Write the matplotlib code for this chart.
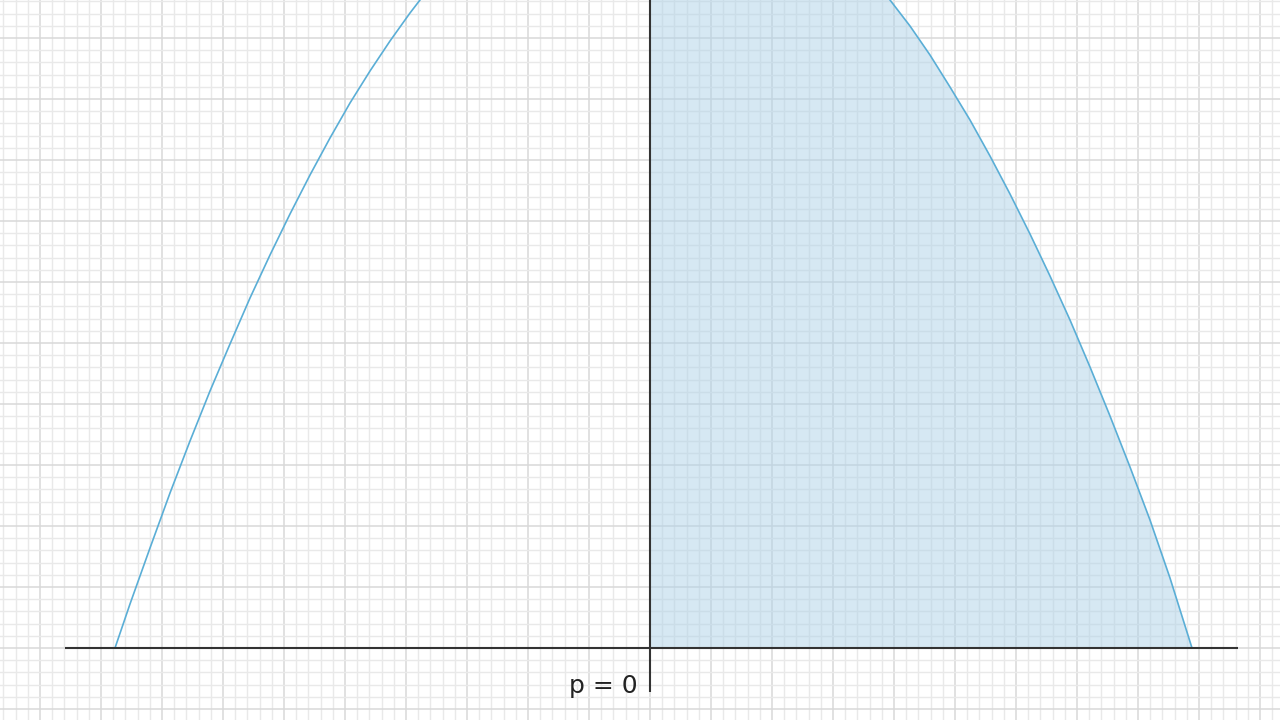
import matplotlib
matplotlib.use("Agg")
import matplotlib.pyplot as plt
from matplotlib.ticker import MultipleLocator
import numpy as np

# Curve values (p: horizontal, E: vertical)
p_vals = [-5.35, -5.2, -5.0, -4.8, -4.6, -4.4, -4.2, -4.0, -3.8, -3.6, -3.4, -3.2,
          -3.0, -2.8, -2.6, -2.4, -2.2, -2.0, -1.8, -1.6, -1.4, -1.2, -1.0, -0.8,
          -0.6, -0.4, -0.2, 0.0, 0.2, 0.4, 0.6, 0.8, 1.0, 1.2, 1.4, 1.6, 1.8, 2.0,
          2.2, 2.4, 2.6, 2.8, 3.0, 3.2, 3.4, 3.6, 3.8, 4.0, 4.2, 4.4, 4.6, 4.8,
          5.0, 5.2, 5.42]
E_vals = [0.00, 0.44, 1.00, 1.55, 2.07, 2.57, 3.04, 3.50, 3.93, 4.34, 4.73, 5.10,
          5.45, 5.77, 6.07, 6.35, 6.61, 6.85, 7.06, 7.25, 7.42, 7.57, 7.70, 7.80,
          7.88, 7.94, 7.98, 8.00, 7.99, 7.97, 7.92, 7.85, 7.75, 7.64, 7.50, 7.34,
          7.16, 6.96, 6.73, 6.48, 6.22, 5.93, 5.61, 5.28, 4.92, 4.54, 4.14, 3.72,
          3.28, 2.81, 2.32, 1.81, 1.28, 0.70, 0.00]
label_text = "p = 0"

p = np.array(p_vals)
E = np.array(E_vals)

fig = plt.figure(figsize=(12.8, 7.2), dpi=100)
ax = fig.add_axes([0, 0, 1, 1])
ax.set_xlim(-6.5, 6.3)
ax.set_ylim(-0.72, 6.48)

# graph-paper grid
ax.xaxis.set_major_locator(MultipleLocator(0.61))
ax.yaxis.set_major_locator(MultipleLocator(0.61))
ax.xaxis.set_minor_locator(MultipleLocator(0.122))
ax.yaxis.set_minor_locator(MultipleLocator(0.122))
ax.grid(which='minor', color='#e9e9e9', lw=1.0)
ax.grid(which='major', color='#d9d9d9', lw=1.1)
ax.set_axisbelow(True)
ax.tick_params(which='both', length=0, labelbottom=False, labelleft=False)
for s in ax.spines.values():
    s.set_visible(False)

# shaded region for p >= 0
mask = p >= 0
ax.fill_between(p[mask], 0, E[mask], color='#aed2e8', alpha=0.5, lw=0, zorder=2)

# curve
ax.plot(p, E, color='#5aaed6', lw=1.2, zorder=3)

# axes lines
ax.plot([-5.85, 5.88], [0, 0], color='#333333', lw=1.5, zorder=4, solid_capstyle='butt')
ax.plot([0, 0], [-0.44, 6.6], color='#333333', lw=1.5, zorder=4, solid_capstyle='butt')

ax.text(-0.47, -0.38, label_text, ha='center', va='center', fontsize=18, color='#222222', zorder=5)

fig.savefig("out.png", dpi=100)
